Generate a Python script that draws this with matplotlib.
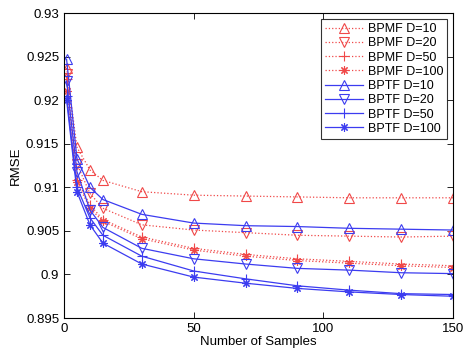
import numpy as np
import matplotlib
matplotlib.use('Agg')
import matplotlib.pyplot as plt

plt.rcParams['font.family'] = ['Liberation Sans', 'DejaVu Sans']

samples = [1, 5, 10, 15, 30, 50, 70, 90, 110, 130, 150]

# BPMF, dotted red
bpmf_10 = [0.9237, 0.9146, 0.9120, 0.9108, 0.9095, 0.9091, 0.9090, 0.9089, 0.9088, 0.9088, 0.9088]
bpmf_20 = [0.9230, 0.9127, 0.9093, 0.9076, 0.9057, 0.9051, 0.9048, 0.9045, 0.9044, 0.9043, 0.9044]
bpmf_50 = [0.9224, 0.9108, 0.9080, 0.9063, 0.9043, 0.9030, 0.9023, 0.9018, 0.9015, 0.9012, 0.9010]
bpmf_100 = [0.9211, 0.9106, 0.9076, 0.9061, 0.9041, 0.9028, 0.9021, 0.9016, 0.9013, 0.9010, 0.9008]

# BPTF, solid blue
bptf_10 = [0.9247, 0.9133, 0.9100, 0.9086, 0.9069, 0.9059, 0.9056, 0.9055, 0.9053, 0.9052, 0.9051]
bptf_20 = [0.9222, 0.9118, 0.9074, 0.9054, 0.9030, 0.9018, 0.9012, 0.9007, 0.9005, 0.9002, 0.9001]
bptf_50 = [0.9205, 0.9100, 0.9065, 0.9045, 0.9021, 0.9004, 0.8995, 0.8987, 0.8982, 0.8978, 0.8977]
bptf_100 = [0.9200, 0.9095, 0.9057, 0.9036, 0.9012, 0.8997, 0.8990, 0.8984, 0.8980, 0.8977, 0.8975]

y_ticks = [0.895, 0.9, 0.905, 0.91, 0.915, 0.92, 0.925, 0.93]
y_tick_labels = ['0.895', '0.9', '0.905', '0.91', '0.915', '0.92', '0.925', '0.93']
x_ticks = [0, 50, 100, 150]

red = '#f04848'
blue = '#3c3cf0'
asterisk = (8, 2, 0)

fig = plt.figure(figsize=(4.74, 3.53), dpi=100)
ax = fig.add_axes([0.135, 0.099, 0.821, 0.864])

series = [
    (bpmf_10, red, ':', '^', 7, 'BPMF D=10'),
    (bpmf_20, red, ':', 'v', 7, 'BPMF D=20'),
    (bpmf_50, red, ':', '+', 7, 'BPMF D=50'),
    (bpmf_100, red, ':', asterisk, 6, 'BPMF D=100'),
    (bptf_10, blue, '-', '^', 7, 'BPTF D=10'),
    (bptf_20, blue, '-', 'v', 7, 'BPTF D=20'),
    (bptf_50, blue, '-', '+', 7, 'BPTF D=50'),
    (bptf_100, blue, '-', asterisk, 6, 'BPTF D=100'),
]
for vals, c, ls, mk, ms, lab in series:
    ax.plot(samples, vals, color=c, linestyle=ls, linewidth=0.9, marker=mk,
            markersize=ms, markerfacecolor='none', markeredgecolor=c,
            markeredgewidth=0.8, label=lab)

ax.set_xlim(0, 150)
ax.set_ylim(0.895, 0.93)
ax.set_xticks(x_ticks)
ax.set_yticks(y_ticks)
ax.set_yticklabels(y_tick_labels)
ax.tick_params(direction='in', top=True, right=True, labelsize=9.5, length=4, width=0.6)
for s in ax.spines.values():
    s.set_linewidth(0.8)
ax.set_xlabel('Number of Samples', fontsize=9.5, labelpad=1)
ax.set_ylabel('RMSE', fontsize=9.5, labelpad=3)

leg = ax.legend(loc='upper right', fontsize=9, frameon=True, fancybox=False,
                handlelength=3.0, labelspacing=0.18, borderaxespad=0.5,
                handletextpad=0.4, borderpad=0.3)
leg.get_frame().set_edgecolor('black')
leg.get_frame().set_linewidth(0.8)

fig.savefig('out.png', dpi=100)
